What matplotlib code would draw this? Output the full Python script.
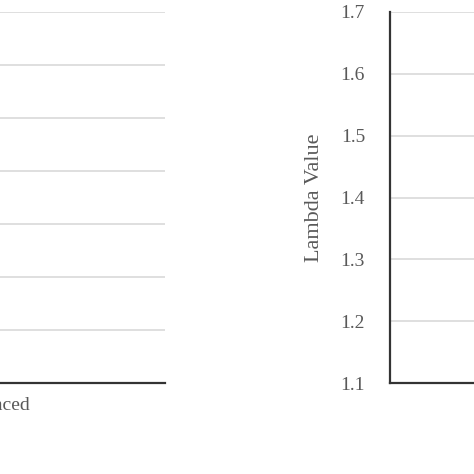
import matplotlib.pyplot as plt

plt.rcParams['font.family'] = ['Liberation Serif', 'DejaVu Serif']

# left panel (mostly cropped out)
left_categories = ['Balanced']
left_ticks = [0, 1, 2, 3, 4, 5, 6, 7]

# right panel
lambda_ticks = [1.1, 1.2, 1.3, 1.4, 1.5, 1.6, 1.7]

W = H = 474
fig = plt.figure(figsize=(4.74, 4.74), dpi=100)

bottom = 1 - 383 / H
height = (383 - 12) / H
grid_c = '#d9d9d9'
txt_c = '#595959'

# left axes: x from -140px to 165px, only its right edge is in view
ax1 = fig.add_axes([-140 / W, bottom, 305 / W, height])
ax1.set_ylim(left_ticks[0], left_ticks[-1])
ax1.set_yticks(left_ticks)
ax1.set_yticklabels([])
ax1.set_xlim(-0.5, 0.5)
ax1.set_xticks([-0.06])
ax1.set_xticklabels(left_categories, fontsize=14, color=txt_c)
ax1.tick_params(length=0, pad=10)
ax1.yaxis.grid(True, color=grid_c, lw=1.2)
ax1.set_axisbelow(True)
for s in ['top', 'right', 'left']:
    ax1.spines[s].set_visible(False)
ax1.spines['bottom'].set_color('#333333')
ax1.spines['bottom'].set_linewidth(1.6)

# right axes
ax2 = fig.add_axes([390 / W, bottom, 200 / W, height])
ax2.set_ylim(lambda_ticks[0], lambda_ticks[-1])
ax2.set_yticks(lambda_ticks)
ax2.set_yticklabels([f'{v:.1f}' for v in lambda_ticks], fontsize=14, color=txt_c)
ax2.set_xticks([])
ax2.tick_params(length=0, pad=18)
ax2.yaxis.grid(True, color=grid_c, lw=1.2)
ax2.set_axisbelow(True)
ax2.set_ylabel('Lambda Value', fontsize=16, color=txt_c, labelpad=12)
for s in ['top', 'right']:
    ax2.spines[s].set_visible(False)
for s in ['left', 'bottom']:
    ax2.spines[s].set_color('#333333')
    ax2.spines[s].set_linewidth(1.6)

fig.savefig('out.png', dpi=100)
